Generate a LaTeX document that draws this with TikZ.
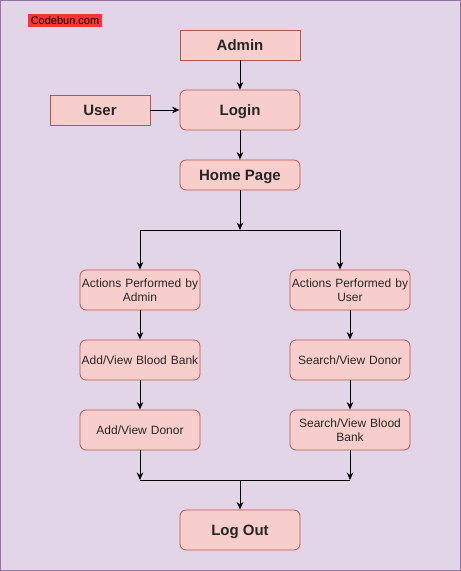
\documentclass[tikz,border=0pt]{standalone}
\usepackage{fontspec}
\setmainfont{Liberation Sans}
\usetikzlibrary{arrows.meta}
\definecolor{bgc}{HTML}{E1D5E7}
\definecolor{bgline}{HTML}{9673A6}
\definecolor{boxfill}{HTML}{F8CECC}
\definecolor{boxline}{HTML}{B85450}
\definecolor{tagred}{HTML}{FF3333}
\begin{document}
\begin{tikzpicture}[x=1pt,y=-1pt,
  base/.style={draw=boxline,fill=boxfill,line width=0.8pt,inner sep=0pt,align=center,text=black!85},
  bigtext/.style={font=\fontsize{15}{17}\selectfont\bfseries,text height=13.6pt,text depth=3.2pt},
  sqbox/.style={base,bigtext,minimum width=#1,minimum height=30pt},
  rbig/.style={base,bigtext,rounded corners=6pt,minimum width=120pt,minimum height=#1},
  rsmall/.style={base,rounded corners=6pt,minimum width=120pt,minimum height=40pt,text width=118pt,font=\fontsize{12}{14}\selectfont},
  conn/.style={line width=0.9pt,-{Stealth[length=7.5pt,width=6.5pt]}},
  plain/.style={line width=0.9pt}]
\fill[bgc] (0,0) rectangle (461,571);
\draw[bgline,line width=1pt] (0.5,0.5) rectangle (460.5,570.5);
\node[fill=tagred,inner sep=0pt,minimum width=74pt,minimum height=13pt,font=\fontsize{11}{12}\selectfont,text height=9pt,text depth=2pt] (tag) at (65,20.5) {Codebun.com};
\node[sqbox=120pt] (admin) at (240,45) {Admin};
\node[sqbox=100pt] (user) at (100,110) {User};
\node[rbig=40pt] (login) at (240,110) {Login};
\node[rbig=30pt] (home) at (240,175) {Home Page};
\node[rsmall] (aa) at (140,290) {Actions Performed by\\Admin};
\node[rsmall] (au) at (350,290) {Actions Performed by\\User};
\node[rsmall] (abb) at (140,360) {Add/View Blood Bank};
\node[rsmall] (svd) at (350,360) {Search/View Donor};
\node[rsmall] (avd) at (140,430) {Add/View Donor};
\node[rsmall] (svb) at (350,430) {Search/View Blood\\Bank};
\node[rbig=40pt] (logout) at (240,530) {Log Out};
\coordinate (j1) at (240,230);
\coordinate (j1l) at (140,230);
\coordinate (j1r) at (340,230);
\coordinate (j2) at (240,480);
\coordinate (j2l) at (140,480);
\coordinate (j2r) at (350,480);
\draw[conn] (admin) -- (login);
\draw[conn] (user) -- (login);
\draw[conn] (login) -- (home);
\draw[conn] (home) -- (j1);
\draw[plain] (j1l) -- (j1r);
\draw[conn] (j1l) -- (j1l |- aa.north);
\draw[conn] (j1r) -- (j1r |- au.north);
\draw[conn] (aa) -- (abb);
\draw[conn] (abb) -- (avd);
\draw[conn] (au) -- (svd);
\draw[conn] (svd) -- (svb);
\draw[conn] (avd) -- (j2l);
\draw[conn] (svb) -- (j2r);
\draw[plain] (j2l) -- (j2r);
\draw[conn] (j2) -- (logout);
\end{tikzpicture}
\end{document}
